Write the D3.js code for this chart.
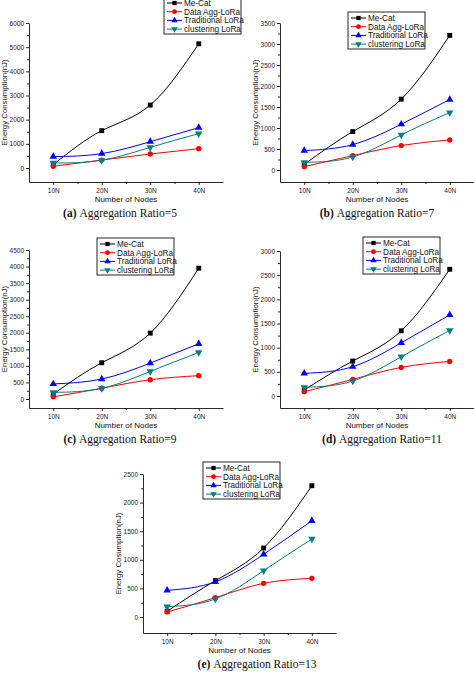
<!DOCTYPE html>
<html>
<head>
	<meta charset="utf-8">
	<style>
		body { margin: 0; background: #fff; }
		text { font-family: "Liberation Sans", Arial, sans-serif; }
		.cap { font-family: "Liberation Serif", "DejaVu Serif", serif; }
	</style>
</head>
<body>
	<script src="https://cdn.jsdelivr.net/npm/d3@7"></script>

	<script>
		// one entry per sub-figure (a)..(e)
		const panelLetters = ['a', 'b', 'c', 'd', 'e'];
		const ratios = [5, 7, 9, 11, 13];
		const nodes = [10, 20, 30, 40];
		const seriesNames = ['Me-Cat', 'Data Agg-LoRa', 'Traditional LoRa', 'clustering LoRa'];

		const meCat       = [[140, 1545, 2605, 5140], [135, 915, 1687, 3205], [150, 1095, 1990, 3950], [124, 723, 1349, 2622], [100, 635, 1206, 2295]];
		const dataAgg     = [[70, 330, 580, 800],     [80, 342, 582, 716],    [65, 325, 582, 705],    [89, 344, 592, 716],    [88, 338, 589, 676]];
		const traditional = [[470, 595, 1090, 1670],  [462, 605, 1090, 1678], [455, 603, 1085, 1668], [468, 606, 1100, 1678], [466, 615, 1096, 1682]];
		const clustering  = [[207, 318, 855, 1422],   [183, 310, 835, 1368],  [200, 322, 833, 1405],  [180, 310, 812, 1356],  [181, 315, 810, 1364]];

		const yMaxTick = [6000, 3500, 4500, 3000, 2500];
		const yStep = [1000, 500, 500, 500, 500];
		const yLabels = ['Energy Consumption(nJ)', 'Energy Consumption(nJ)', 'Energy Consumption(nJ)', 'Energy Consumption(nJ)', 'Energy Cosumption(nJ)'];

		const W = 474, H = 673;
		const colors = ['#000000', '#ff0000', '#0000ff', '#008080'];
		const symbols = [d3.symbolSquare, d3.symbolCircle, d3.symbolTriangle, d3.symbolTriangle];

		// pixel layout of each sub-figure
		const layout = [
			{ x0: 29,  x1: 223, axisY: 182, zeroY: 168, topY: 23,  lx: 164, ly: -3,  capX: 120 },
			{ x0: 280, x1: 474, axisY: 182, zeroY: 170, topY: 23,  lx: 348, ly: 12,  capX: 377 },
			{ x0: 29,  x1: 223, axisY: 408, zeroY: 399, topY: 250, lx: 97,  ly: 238, capX: 120 },
			{ x0: 280, x1: 474, axisY: 408, zeroY: 396, topY: 251, lx: 363, ly: 237, capX: 382 },
			{ x0: 143, x1: 336, axisY: 633, zeroY: 617, topY: 474, lx: 203, ly: 462, capX: 257 }
		];

		const svg = d3.select('body')
			.append('svg')
			.attr('width', W)
			.attr('height', H);

		panelLetters.forEach((letter, i) => {
			const L = layout[i];
			const g = svg.append('g');

			const x = d3.scaleLinear().domain([5, 45]).range([L.x0, L.x1]);
			const y0 = d3.scaleLinear().domain([0, yMaxTick[i]]).range([L.zeroY, L.topY]);
			const y = d3.scaleLinear().domain([y0.invert(L.axisY), yMaxTick[i]]).range([L.axisY, L.topY]);

			const major = d3.range(0, yMaxTick[i] + 1, yStep[i]);
			const minor = d3.range(yStep[i] / 2, yMaxTick[i], yStep[i]);

			// y axis
			g.append('g').attr('transform', `translate(${L.x0},0)`)
				.call(d3.axisLeft(y).tickValues(major).tickFormat(d3.format('d')).tickSize(3).tickSizeOuter(0).tickPadding(2));
			g.append('g').attr('transform', `translate(${L.x0},0)`)
				.call(d3.axisLeft(y).tickValues(minor).tickSize(2).tickFormat('')).select('.domain').remove();

			// x axis
			g.append('g').attr('transform', `translate(0,${L.axisY})`)
				.call(d3.axisBottom(x).tickValues(nodes).tickFormat(d => d + 'N').tickSize(3).tickSizeOuter(0).tickPadding(3));
			g.append('g').attr('transform', `translate(0,${L.axisY})`)
				.call(d3.axisBottom(x).tickValues([15, 25, 35]).tickSize(2).tickFormat('')).select('.domain').remove();

			g.selectAll('.tick text').attr('font-size', 6.5).attr('font-family', '"Liberation Sans", Arial, sans-serif').attr('fill', '#222');
			g.selectAll('.domain, .tick line').attr('stroke', '#111').attr('stroke-width', 0.9);

			// axis titles
			g.append('text')
				.attr('x', (L.x0 + L.x1) / 2).attr('y', L.axisY + 20)
				.attr('text-anchor', 'middle').attr('font-size', 8).attr('fill', '#111')
				.text('Number of Nodes');
			g.append('text')
				.attr('transform', `translate(${L.x0 - 22},${(L.axisY + L.topY) / 2}) rotate(-90)`)
				.attr('text-anchor', 'middle').attr('font-size', 7.8).attr('fill', '#111')
				.text(yLabels[i]);

			// caption, centred by its measured width
			const cap = g.append('text').attr('class', 'cap')
				.attr('y', L.axisY + 35)
				.attr('font-size', 11.5).attr('fill', '#111');
			cap.append('tspan').attr('font-weight', 'bold').text(`(${letter})`);
			cap.append('tspan').attr('font-weight', 'normal').text(`\u00a0Aggregation Ratio=${ratios[i]}`);
			const cw = cap.node().getComputedTextLength();
			cap.attr('x', L.capX - cw / 2);

			// series
			const all = [meCat[i], dataAgg[i], traditional[i], clustering[i]];
			const line = d3.line()
				.x((d, k) => x(nodes[k]))
				.y(d => y(d))
				.curve(d3.curveNatural);

			all.forEach((vals, s) => {
				g.append('path')
					.attr('d', line(vals))
					.attr('fill', 'none')
					.attr('stroke', colors[s])
					.attr('stroke-width', 1);
			});
			all.forEach((vals, s) => {
				g.selectAll(null).data(vals).enter().append('path')
					.attr('d', d3.symbol().type(symbols[s]).size(s === 1 ? 22 : 24))
					.attr('transform', (d, k) => `translate(${x(nodes[k])},${y(d)})` + (s === 3 ? ' rotate(180)' : ''))
					.attr('fill', colors[s]);
			});

			// legend
			const lg = g.append('g').attr('transform', `translate(${L.lx},${L.ly})`);
			lg.append('rect').attr('width', 77).attr('height', 37)
				.attr('fill', '#fff').attr('stroke', '#111').attr('stroke-width', 0.9);
			seriesNames.forEach((name, s) => {
				const ry = 6 + s * 8.7;
				lg.append('line').attr('x1', 3).attr('x2', 18).attr('y1', ry).attr('y2', ry)
					.attr('stroke', colors[s]).attr('stroke-width', 1);
				lg.append('path')
					.attr('d', d3.symbol().type(symbols[s]).size(18))
					.attr('transform', `translate(10.5,${ry})` + (s === 3 ? ' rotate(180)' : ''))
					.attr('fill', colors[s]);
				lg.append('text').attr('x', 20).attr('y', ry + 2.9)
					.attr('font-size', 8.2).attr('fill', '#111').text(name);
			});
		});
	</script>
</body>
</html>
